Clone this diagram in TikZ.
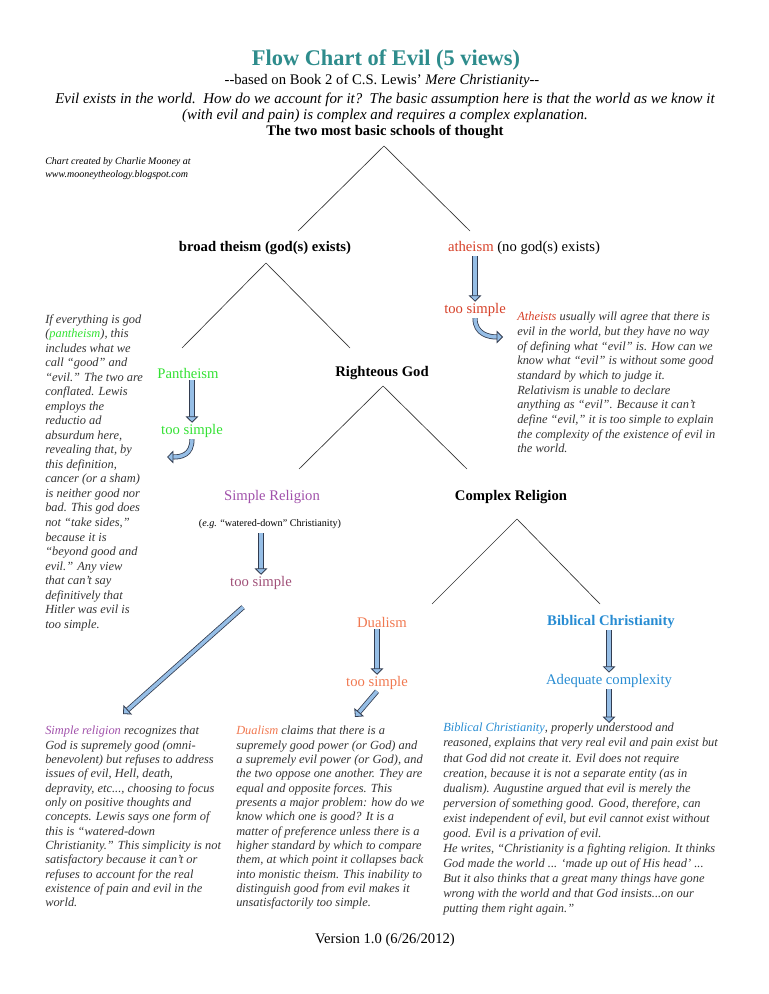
\documentclass[tikz,border=0pt]{standalone}
\usepackage{fontspec}
\setmainfont{Liberation Serif}
\usetikzlibrary{arrows.meta}

\definecolor{titleteal}{RGB}{46,140,140}
\definecolor{athred}{RGB}{214,64,40}
\definecolor{panthgreen}{RGB}{50,225,50}
\definecolor{simpurple}{RGB}{160,80,170}
\definecolor{simmauve}{RGB}{160,80,120}
\definecolor{dualsalmon}{RGB}{240,120,80}
\definecolor{bibblue}{RGB}{40,140,210}
\definecolor{arrfill}{RGB}{150,190,230}
\definecolor{arrline}{RGB}{50,60,80}

\tikzset{
  lbl/.style={inner sep=1pt, font=\fontsize{11}{13}\selectfont},
  boldlbl/.style={inner sep=1pt, font=\fontsize{11}{13}\selectfont\bfseries},
  blurb/.style={anchor=north west, inner sep=0pt, align=left, text=black!80, font=\fontsize{9.3}{11}\selectfont\itshape},
  blockarr/.style={draw=arrline, double=arrfill, double distance=2.6pt, line width=0.6pt,
    -{Triangle[length=4.8pt,width=9.5pt,line width=0.6pt,fill=arrfill]}},
  fork/.style={draw=black!80, line width=0.5pt}
}

\begin{document}
\begin{tikzpicture}[x=0.75pt,y=-0.75pt]
\useasboundingbox (0,0) rectangle (768,994);

% heading
\node[font=\fontsize{16.8}{18}\selectfont\bfseries, text=titleteal] (title) at (386,60) {Flow Chart of Evil (5 views)};
\node[lbl] (sub) at (382,81) {{-}{-}based on Book 2 of C.S. Lewis' \textit{Mere Christianity}{-}{-}};
\node[align=center, font=\fontsize{11.2}{12}\selectfont\itshape] (intro) at (385,108)
  {Evil exists in the world.\ \ How do we account for it?\ \ The basic assumption here is that the world as we know it\\
   (with evil and pain) is complex and requires a complex explanation.};
\node[boldlbl] (schools) at (385,132) {The two most basic schools of thought};
\node[anchor=north west, inner sep=0pt, align=left, font=\fontsize{7.5}{9.75}\selectfont\itshape] (credit) at (45,157)
  {Chart created by Charlie Mooney at\\www.mooneytheology.blogspot.com};

% tree
\node[boldlbl] (theism) at (265,248) {broad theism (god(s) exists)};
\node[lbl] (athe) at (524,248) {\textcolor{athred}{atheism} (no god(s) exists)};
\node[lbl, text=panthgreen] (panth) at (188,373) {Pantheism};
\node[lbl, text=panthgreen] (pts) at (192,431) {too simple};
\node[boldlbl] (right) at (382,373) {Righteous God};
\node[lbl, text=athred] (ats) at (475,310) {too simple};
\node[lbl, text=simpurple] (simp) at (272,497) {Simple Religion};
\node[font=\fontsize{7.6}{9}\selectfont] (eg) at (270,524) {(\textit{e.g.} “watered-down” Christianity)};
\node[lbl, text=simmauve] (sts) at (261,583) {too simple};
\node[boldlbl] (complex) at (511,497) {Complex Religion};
\node[lbl, text=dualsalmon] (dual) at (382,622) {Dualism};
\node[lbl, text=dualsalmon] (dts) at (377,683) {too simple};
\node[boldlbl, text=bibblue] (bib) at (611,622) {Biblical Christianity};
\node[lbl, text=bibblue] (adeq) at (609,681) {Adequate complexity};

\coordinate (f1) at (384,146);
\coordinate (f1l) at (298,231);
\coordinate (f1r) at (470,231);
\coordinate (f2) at (266,263);
\coordinate (f2l) at (182,348);
\coordinate (f2r) at (350,348);
\coordinate (f3) at (383,386);
\coordinate (f3l) at (299,469);
\coordinate (f3r) at (467,469);
\coordinate (f4) at (517,519);
\coordinate (f4l) at (432,604);
\coordinate (f4r) at (600,604);

\draw[fork] (f1) -- (f1l);
\draw[fork] (f1) -- (f1r);
\draw[fork] (f2) -- (f2l);
\draw[fork] (f2) -- (f2r);
\draw[fork] (f3) -- (f3l);
\draw[fork] (f3) -- (f3r);
\draw[fork] (f4) -- (f4l);
\draw[fork] (f4) -- (f4r);

% explanations
\node[blurb, font=\fontsize{9.3}{10.9}\selectfont\itshape] (panthtxt) at (45,314)
  {If everything is god\\
   (\textcolor{panthgreen}{pantheism}), this\\
   includes what we\\
   call “good” and\\
   “evil.” The two are\\
   conflated. Lewis\\
   employs the\\
   reductio ad\\
   absurdum here,\\
   revealing that, by\\
   this definition,\\
   cancer (or a sham)\\
   is neither good nor\\
   bad. This god does\\
   not “take sides,”\\
   because it is\\
   “beyond good and\\
   evil.” Any view\\
   that can’t say\\
   definitively that\\
   Hitler was evil is\\
   too simple.};

\node[blurb] (athtxt) at (517,312)
  {\textcolor{athred}{Atheists} usually will agree that there is\\
   evil in the world, but they have no way\\
   of defining what “evil” is. How can we\\
   know what “evil” is without some good\\
   standard by which to judge it.\\
   Relativism is unable to declare\\
   anything as “evil”. Because it can’t\\
   define “evil,” it is too simple to explain\\
   the complexity of the existence of evil in\\
   the world.};

\node[blurb, font=\fontsize{9.3}{10.75}\selectfont\itshape] (simptxt) at (45,726)
  {\textcolor{simpurple}{Simple religion} recognizes that\\
   God is supremely good (omni-\\
   benevolent) but refuses to address\\
   issues of evil, Hell, death,\\
   depravity, etc..., choosing to focus\\
   only on positive thoughts and\\
   concepts. Lewis says one form of\\
   this is “watered-down\\
   Christianity.” This simplicity is not\\
   satisfactory because it can’t or\\
   refuses to account for the real\\
   existence of pain and evil in the\\
   world.};

\node[blurb, font=\fontsize{9.3}{10.75}\selectfont\itshape] (dualtxt) at (236,726)
  {\textcolor{dualsalmon}{Dualism} claims that there is a\\
   supremely good power (or God) and\\
   a supremely evil power (or God), and\\
   the two oppose one another. They are\\
   equal and opposite forces. This\\
   presents a major problem: how do we\\
   know which one is good? It is a\\
   matter of preference unless there is a\\
   higher standard by which to compare\\
   them, at which point it collapses back\\
   into monistic theism. This inability to\\
   distinguish good from evil makes it\\
   unsatisfactorily too simple.};

\node[blurb, font=\fontsize{9.3}{11.3}\selectfont\itshape] (bibtxt) at (443,723)
  {\textcolor{bibblue}{Biblical Christianity}, properly understood and\\
   reasoned, explains that very real evil and pain exist but\\
   that God did not create it. Evil does not require\\
   creation, because it is not a separate entity (as in\\
   dualism). Augustine argued that evil is merely the\\
   perversion of something good. Good, therefore, can\\
   exist independent of evil, but evil cannot exist without\\
   good. Evil is a privation of evil.\\
   He writes, “Christianity is a fighting religion. It thinks\\
   God made the world ... ‘made up out of His head’ ...\\
   But it also thinks that a great many things have gone\\
   wrong with the world and that God insists...on our\\
   putting them right again.”};

% block arrows
\coordinate (pcurl) at (167,457);
\coordinate (acurl) at (503,337);
\coordinate (simptip) at (123,714);
\coordinate (dualtip) at (355,717);

\draw[blockarr] (pts.north |- panth.south) -- (pts.north);
\draw[blockarr] (pts.south) .. controls +(0,16) and +(14,0) .. (pcurl);
\draw[blockarr] (ats.north |- athe.south) -- (ats.north);
\draw[blockarr] (ats.south) .. controls +(0,16) and +(-14,0) .. (acurl);
\draw[blockarr] (sts.north |- eg.south) -- (sts.north);
\draw[blockarr, shorten <=18pt] (sts.south) -- (simptip);
\draw[blockarr] (dts.north |- dual.south) -- (dts.north);
\draw[blockarr] (dts.south) -- (dualtip);
\draw[blockarr] (adeq.north |- bib.south) -- (adeq.north);
\draw[blockarr] (adeq.south) -- (adeq.south |- bibtxt.north);

\node[lbl] (ver) at (385,940) {Version 1.0 (6/26/2012)};

\end{tikzpicture}
\end{document}
